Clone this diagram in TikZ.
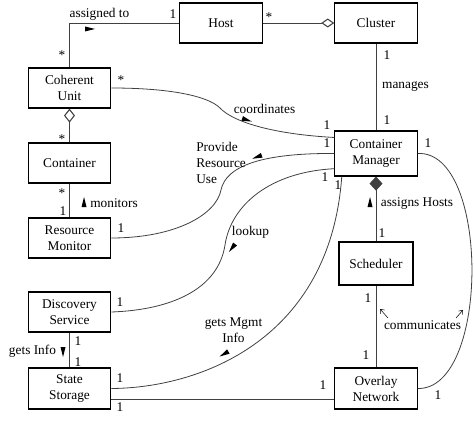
\documentclass[tikz,border=0pt]{standalone}
\usepackage{fontspec}
\setmainfont{Liberation Serif}
\usetikzlibrary{arrows.meta}

\tikzset{
	box/.style={draw, line width=0.9pt, align=center, minimum width=61.75pt, minimum height=30pt, inner sep=2pt},
	link/.style={line width=0.6pt, draw=black!75},
	mult/.style={inner sep=0pt, text height=0.68em, text depth=0pt},
	lbl/.style={inner sep=0pt},
}

\begin{document}
\begin{tikzpicture}[x=0.75pt, y=-0.75pt]
		\useasboundingbox (0,0) rectangle (474,424);
		% classes
		\node[box] (host) at (221,23) {Host};
		\node[box] (cluster) at (376,23) {Cluster};
		\node[box] (unit) at (69.5,88) {Coherent\\Unit};
		\node[box] (container) at (69.5,163) {Container};
		\node[box] (monitor) at (69.5,238) {Resource\\Monitor};
		\node[box] (discovery) at (69.5,312) {Discovery\\Service};
		\node[box, minimum height=30.75pt] (storage) at (69.5,388.5) {State\\Storage};
		\node[box, minimum height=33.75pt] (manager) at (376,153.5) {Container\\Manager};
		\node[box, minimum width=55.5pt, minimum height=32.25pt] (scheduler) at (376,263.5) {Scheduler};
		\node[box, minimum height=30.75pt] (overlay) at (376,388.5) {Overlay\\Network};

		% associations
		\draw[link] (host.west) -| (unit.north);
		\draw[link, -{Diamond[open, length=9.75pt, width=6.75pt, line width=0.8pt]}] (host.east) -- (cluster.west);
		\draw[link, {Diamond[open, length=10.5pt, width=8.25pt, line width=0.8pt]}-] (unit.south) -- (container.north);
		\draw[link] (container.south) -- (monitor.north);
		\draw[link] (discovery.south) -- (storage.north);
		\draw[link] (cluster.south) -- (manager.north);
		\draw[link, {Diamond[length=10.5pt, width=9.75pt]}-] (manager.south) -- (scheduler.north);
		\draw[link] (scheduler.south) -- (overlay.north);
		\draw[link] (storage.-14) -- (overlay.194);
		\draw[link] (unit.east) .. controls (170,88) and (208,96) .. (220,108)
			.. controls (232,121) and (270,134) .. (manager.159);
		\draw[link] (monitor.east) .. controls (175,238) and (216,215) .. (221,190)
			.. controls (226,165) and (265,153) .. (manager.west);
		\draw[link] (discovery.east) .. controls (170,310) and (218,290) .. (225,245)
			.. controls (231,205) and (270,172) .. (manager.200);
		\draw[link] (storage.east) .. controls (200,388) and (330,340) .. (manager.214);
		\draw[link] (manager.east) .. controls (490,150) and (490,390) .. (overlay.east);

		% multiplicities
		\foreach \x/\y/\t [count=\i] in {173/14/1, 269/17/*, 62/55/*, 121/80/*, 62/139/*, 62/193/*, 63/211/1,
				121/228/1, 120/302/1, 78/341/1, 78/362/1, 120/378/1, 120/407/1, 323/385/1, 438/395/1,
				368/298/1, 366/355/1, 382/233/1, 428/143/1, 327/125/1, 327/143/1, 325/177/1, 338/185/1,
				387/55/1, 387/120/1}
			\node[mult] (m\i) at (\x,\y) {\t};

		% association names
		\node[lbl] (assigned) at (99.5,14) {assigned to};
		\node[lbl] (manages) at (405.5,87) {manages};
		\node[lbl] (coord) at (264.5,108.5) {coordinates};
		\node[lbl, align=left, anchor=west] (provide) at (196,163) {Provide\\Resource\\Use};
		\node[lbl] (monitors) at (114,203) {monitors};
		\node[lbl] (lookup) at (250.5,232) {lookup};
		\node[lbl, align=center] (mgmt) at (233.5,330) {gets Mgmt\\Info};
		\node[lbl] (getsinfo) at (32.5,351) {gets Info};
		\node[lbl] (assigns) at (417,204) {assigns Hosts};
		\node[lbl] (comm) at (422.5,325) {communicates};

		% reading directions
		\foreach \x/\y/\a in {90/29/0, 247/120/-18, 257/157/200, 84/202/90, 232/248/232, 224/354/210, 63/352/-90, 370/202/90}
			\fill[shift={(\x,\y)}, rotate=\a] (5,0) -- (-5,-2.5) -- (-5,2.5) -- cycle;
		\draw[line width=0.4pt, -{Straight Barb[length=2.5pt, width=4pt]}] (388,318) -- (380,309);
		\draw[line width=0.4pt, -{Straight Barb[length=2.5pt, width=4pt]}] (456,318) -- (463,310);
	\end{tikzpicture}
\end{document}
